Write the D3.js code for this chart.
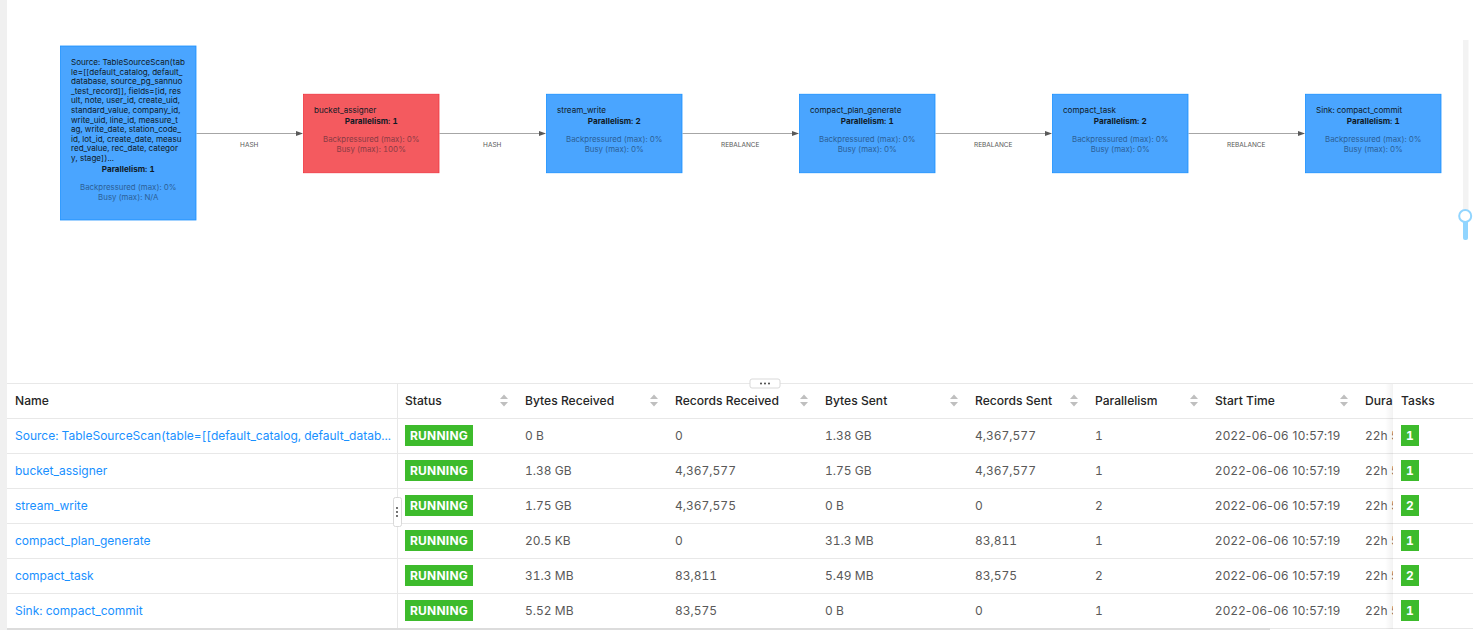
<!DOCTYPE html>
<html><head><meta charset="utf-8">
<script src="https://cdn.jsdelivr.net/npm/d3@7/dist/d3.min.js"></script>
<style>html,body{margin:0;padding:0;background:#fff;overflow:hidden}svg{display:block}text{font-family:Inter,"Liberation Sans",sans-serif;font-variant-numeric:tabular-nums}text.date{font-variant-numeric:normal;letter-spacing:.32px}</style>
</head><body><svg id="c" width="1473" height="630"></svg>
<script>
// ---------- data ----------
const vertexNames = ["Source","bucket_assigner","stream_write","compact_plan_generate","compact_task","Sink: compact_commit"];
const vertexTitleLines = [
 ["Source: TableSourceScan(tab","le=[[default_catalog, default_","database, source_pg_sannuo","_test_record]], fields=[id, res","ult, note, user_id, create_uid,","standard_value, company_id,","write_uid, line_id, measure_t","ag, write_date, station_code_","id, lot_id, create_date, measu","red_value, rec_date, categor","y, stage])..."],
 ["bucket_assigner"],["stream_write"],["compact_plan_generate"],["compact_task"],["Sink: compact_commit"]];
const vertexParallelism = [1,1,2,1,2,1];
const vertexBackpressured = ["0%","0%","0%","0%","0%","0%"];
const vertexBusy = ["N/A","100%","0%","0%","0%","0%"];
const edgeLabels = ["HASH","HASH","REBALANCE","REBALANCE","REBALANCE"];
const columns = ["Name","Status","Bytes Received","Records Received","Bytes Sent","Records Sent","Parallelism","Start Time","Dura","Tasks"];
const rowNames = ["Source: TableSourceScan(table=[[default_catalog, default_datab...","bucket_assigner","stream_write","compact_plan_generate","compact_task","Sink: compact_commit"];
const bytesReceived = ["0 B","1.38 GB","1.75 GB","20.5 KB","31.3 MB","5.52 MB"];
const recordsReceived = ["0","4,367,577","4,367,575","0","83,811","83,575"];
const bytesSent = ["1.38 GB","1.75 GB","0 B","31.3 MB","5.49 MB","0 B"];
const recordsSent = ["4,367,577","4,367,577","0","83,811","83,575","0"];
const parallelism = [1,1,2,1,2,1];
const startTime = ["2022-06-06 10:57:19","2022-06-06 10:57:19","2022-06-06 10:57:19","2022-06-06 10:57:19","2022-06-06 10:57:19","2022-06-06 10:57:19"];
const durations = ["22h 5","22h 5","22h 5","22h 5","22h 5","22h 5"];
const tasks = [1,1,2,1,2,1];
// ---------- layout ----------
const nodeLeft = [60,303,546,799,1052,1305], nodeW = 136.5;
const colLeft = [15,405,525,675,825,975,1095,1215,1365,1401];
const svg = d3.select("#c");
const x = d3.scaleOrdinal().domain(vertexNames).range(nodeLeft);
const col = d3.scaleOrdinal().domain(columns).range(colLeft);
const rowY = d3.scaleBand().domain(d3.range(6)).range([418.5,628.5]);
const midY = 133.5;
const defs = svg.append("defs");
defs.append("clipPath").attr("id","durClip").append("rect").attr("x",1360).attr("y",384).attr("width",33).attr("height",246);
const grad = defs.append("linearGradient").attr("id","shadow");
grad.append("stop").attr("offset",0).attr("stop-color","#000").attr("stop-opacity",0);
grad.append("stop").attr("offset",1).attr("stop-color","#000").attr("stop-opacity",.05);

// left strip and slider
svg.append("rect").attr("width",7).attr("height",630).attr("fill","#f0f0f0");
svg.append("rect").attr("x",1463).attr("y",40).attr("width",5.5).attr("height",178).attr("fill","#f3f3f3");
svg.append("rect").attr("x",1463).attr("y",220).attr("width",5).attr("height",20).attr("rx",2).attr("fill","#91d5ff");
svg.append("circle").attr("cx",1465.2).attr("cy",216).attr("r",6).attr("fill","#fff").attr("stroke","#91d5ff").attr("stroke-width",2);

// edges
const edges = svg.append("g");
edgeLabels.forEach((lab,i)=>{
  const a = x(vertexNames[i])+nodeW, b = x(vertexNames[i+1]);
  edges.append("line").attr("x1",a).attr("x2",b-1).attr("y1",midY).attr("y2",midY).attr("stroke","#a6a6a6").attr("stroke-width",1);
  edges.append("path").attr("d",d3.line()([[b-7,midY-2.5],[b,midY],[b-7,midY+2.5]])+"Z").attr("fill","#595959");
  edges.append("text").attr("x",(a+b)/2-.5).attr("y",147).attr("text-anchor","middle").attr("font-size",6.5).attr("fill","#595959").text(lab);
});

// nodes
const FS = 8.1, FSm = 7.85;
const nodes = svg.selectAll("g.n").data(vertexNames).join("g").attr("class","n");
nodes.each(function(name,i){
  const g = d3.select(this), L = vertexTitleLines[i], lh = 9.6;
  const h = i===0 ? 174 : 78.5, top = midY-(i===0?87.5:39.25), bg = i===1?"#f45a5f":"#4aa5ff", bd = i===1?"#f0353f":"#1890ff";
  const l = x(name);
  g.append("rect").attr("x",l+.5).attr("y",top).attr("width",nodeW-1).attr("height",h).attr("fill",bg).attr("stroke",bd).attr("stroke-width",.8);
  const t0 = i===0 ? 65 : 113;
  L.forEach((s,k)=>g.append("text").attr("x",l+11).attr("y",t0+k*lh).attr("font-size",FS).attr("fill","#101a26").text(s));
  const py = t0 + (L.length-1)*lh + 11.2;
  const cx = l+nodeW/2;
  g.append("text").attr("x",cx).attr("y",py).attr("text-anchor","middle").attr("font-size",FS).attr("font-weight",700).attr("fill","#101a26").text("Parallelism: "+vertexParallelism[i]);
  const mc = i===1?"#8a3a44":"#2c5f96";
  g.append("text").attr("x",cx).attr("y",py+17.5).attr("text-anchor","middle").attr("font-size",FSm).attr("fill",mc).text("Backpressured (max): "+vertexBackpressured[i]);
  g.append("text").attr("x",cx).attr("y",py+27.5).attr("text-anchor","middle").attr("font-size",FSm).attr("fill",mc).text("Busy (max): "+vertexBusy[i]);
});

// table lines
const tbl = svg.append("g");
const border = "#e8e8e8";
tbl.append("line").attr("x1",7).attr("x2",1473).attr("y1",383.5).attr("y2",383.5).attr("stroke",border);
rowY.domain().forEach(r=>{
  tbl.append("line").attr("x1",7).attr("x2",1473).attr("y1",rowY(r)).attr("y2",rowY(r)).attr("stroke",border);
});
tbl.append("line").attr("x1",7).attr("x2",1473).attr("y1",628.5).attr("y2",628.5).attr("stroke",border);
tbl.append("line").attr("x1",397.5).attr("x2",397.5).attr("y1",384).attr("y2",628).attr("stroke",border);

// header
const headY = 405;
columns.forEach((c,i)=>{
  const clip = c==="Dura";
  tbl.append("text").attr("x",col(c)).attr("y",headY).attr("font-size",12.1).attr("font-weight",500).attr("fill","#262626")
    .attr("clip-path",clip?"url(#durClip)":null).text(c);
  if(i>=1 && i<=7){
    const sx = col(columns[i+1])-21;
    tbl.append("path").attr("d",`M${sx-4},399 L${sx},394.5 L${sx+4},399Z M${sx-4},402 L${sx},406.5 L${sx+4},402Z`).attr("fill","#bfbfbf");
  }
});
// rows
const badge = (g,x0,y0,w,txt)=>{
  g.append("rect").attr("x",x0).attr("y",y0).attr("width",w).attr("height",21).attr("fill","#3dbb2c");
  g.append("text").attr("x",x0+w/2).attr("y",y0+15).attr("text-anchor","middle").attr("font-size",12).attr("font-weight",700).attr("letter-spacing",.25).attr("fill","#fff").text(txt);
};
const cols = [bytesReceived,recordsReceived,bytesSent,recordsSent,parallelism,startTime];
rowNames.forEach((n,r)=>{
  const y = rowY(r)+rowY.bandwidth()/2;
  tbl.append("text").attr("x",col("Name")).attr("y",y+3.5).attr("font-size",12).attr("fill","#1890ff").text(n);
  badge(tbl,col("Status"),y-11,68,"RUNNING");
  cols.forEach((vals,k)=>tbl.append("text").attr("class",vals===startTime?"date":null).attr("x",col(columns[k+2])).attr("y",y+3.5).attr("font-size",12).attr("fill","#595959").text(vals[r]));
  tbl.append("text").attr("x",col("Dura")).attr("y",y+3.5).attr("font-size",12).attr("fill","#595959").attr("clip-path","url(#durClip)").text(durations[r]);
});
// fixed Tasks column overlay
svg.append("rect").attr("x",1393).attr("y",384).attr("width",80).attr("height",246).attr("fill","#fff");
svg.append("rect").attr("x",1385).attr("y",384).attr("width",8).attr("height",245).attr("fill","url(#shadow)");
rowY.domain().forEach(r=>svg.append("line").attr("x1",1393).attr("x2",1473).attr("y1",rowY(r)).attr("y2",rowY(r)).attr("stroke",border));
svg.append("line").attr("x1",1393).attr("x2",1473).attr("y1",628.5).attr("y2",628.5).attr("stroke",border);
svg.append("text").attr("x",col("Tasks")).attr("y",headY).attr("font-size",12.1).attr("font-weight",500).attr("fill","#262626").text("Tasks");
tasks.forEach((t,r)=>badge(svg,col("Tasks"),rowY(r)+rowY.bandwidth()/2-11,18,t));

// resize handles
const h1 = svg.append("g");
h1.append("rect").attr("x",750).attr("y",379).attr("width",30).attr("height",9).attr("rx",2).attr("fill","#fff").attr("stroke","#d9d9d9");
d3.range(3).forEach(i=>h1.append("circle").attr("cx",761+i*4).attr("cy",383.5).attr("r",.9).attr("fill","#333"));
const h2 = svg.append("g");
h2.append("rect").attr("x",393.5).attr("y",497.5).attr("width",8).attr("height",29).attr("rx",2).attr("fill","#fff").attr("stroke","#d9d9d9");
d3.range(3).forEach(i=>h2.append("circle").attr("cx",397).attr("cy",508+i*4).attr("r",.9).attr("fill","#333"));
// bottom scrollbar
svg.append("rect").attr("x",7).attr("y",628).attr("width",1263).attr("height",2).attr("fill","#dcdcdc");
</script></body></html>
